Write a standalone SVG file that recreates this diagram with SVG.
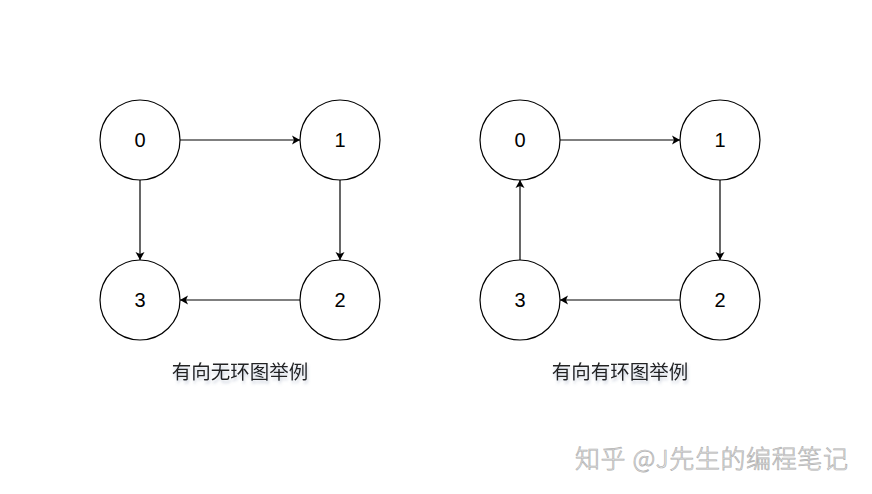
<svg xmlns="http://www.w3.org/2000/svg" width="872" height="494" viewBox="0 0 872 494">
<style>
.node circle{fill:#fff;stroke:#000;stroke-width:1.2}
.node text{font-family:"Liberation Sans",Arial,sans-serif;font-size:20px;fill:#000;text-anchor:middle}
.edge{stroke:#000;stroke-width:1.2;fill:none;marker-end:url(#arr)}
.cap{font-family:"Noto Sans CJK SC","Noto Sans",sans-serif;font-size:19.5px;fill:#222;text-anchor:middle;filter:url(#sh)}
.wm{font-family:"Noto Sans CJK SC","Noto Sans",sans-serif;font-size:25px;font-weight:300;fill:#f4f4f4;stroke:#b0b0b0;stroke-width:0.7}
</style>
<defs>
<marker id="arr" markerUnits="userSpaceOnUse" markerWidth="12" markerHeight="12" viewBox="-9 -6 10 12" refX="0" refY="0" orient="auto">
<path d="M0,0 L-8,-4.5 L-6,0 L-8,4.5 Z" fill="#000"/>
</marker>
<filter id="sh" x="-10%" y="-30%" width="120%" height="180%">
<feDropShadow dx="1" dy="3" stdDeviation="1.8" flood-color="#7080a0" flood-opacity="0.35"/>
</filter>
</defs>
<rect width="872" height="494" fill="#fff"/>
<g id="connectors">
<line class="edge" x1="180" y1="140" x2="300" y2="140"/>
<line class="edge" x1="140" y1="180" x2="140" y2="260"/>
<line class="edge" x1="340" y1="180" x2="340" y2="260"/>
<line class="edge" x1="300" y1="300" x2="180" y2="300"/>
<line class="edge" x1="560" y1="140" x2="680" y2="140"/>
<line class="edge" x1="720" y1="180" x2="720" y2="260"/>
<line class="edge" x1="680" y1="300" x2="560" y2="300"/>
<line class="edge" x1="520" y1="260" x2="520" y2="180"/>
</g>
<g id="a0" class="node"><circle cx="140" cy="140" r="40"/><text x="140" y="147">0</text></g>
<g id="a1" class="node"><circle cx="340" cy="140" r="40"/><text x="340" y="147">1</text></g>
<g id="a2" class="node"><circle cx="340" cy="300" r="40"/><text x="340" y="307">2</text></g>
<g id="a3" class="node"><circle cx="140" cy="300" r="40"/><text x="140" y="307">3</text></g>
<g id="b0" class="node"><circle cx="520" cy="140" r="40"/><text x="520" y="147">0</text></g>
<g id="b1" class="node"><circle cx="720" cy="140" r="40"/><text x="720" y="147">1</text></g>
<g id="b2" class="node"><circle cx="720" cy="300" r="40"/><text x="720" y="307">2</text></g>
<g id="b3" class="node"><circle cx="520" cy="300" r="40"/><text x="520" y="307">3</text></g>
<g id="caption-left"><text class="cap" x="240" y="379">有向无环图举例</text></g>
<g id="caption-right"><text class="cap" x="620" y="379">有向有环图举例</text></g>
<g id="watermark"><text class="wm" x="575" y="468" textLength="273" lengthAdjust="spacing">知乎 @J先生的编程笔记</text></g>
</svg>
